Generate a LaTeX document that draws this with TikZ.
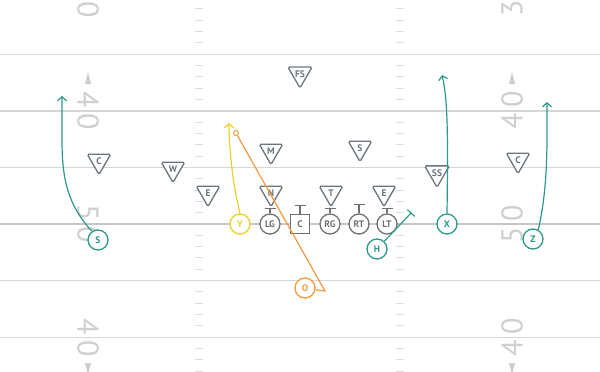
\documentclass[tikz,border=0pt]{standalone}
\usepackage{fontspec}
\setsansfont{PT Sans}
\usetikzlibrary{shapes.geometric, arrows.meta}
\usepackage{xcolor}
\definecolor{offteal}{RGB}{43,154,140}
\definecolor{offyellow}{RGB}{240,208,40}
\definecolor{offorange}{RGB}{246,153,60}
\definecolor{linegray}{RGB}{112,112,112}
\definecolor{defgray}{RGB}{108,117,125}
\definecolor{fieldgray}{RGB}{214,214,214}

\begin{document}
\begin{tikzpicture}[x=1pt,y=-1pt,
		font=\sffamily\bfseries\fontsize{9.5}{9.5}\selectfont,
		yardline/.style={draw=fieldgray, line width=1.4pt},
		hash/.style={draw=fieldgray!80, line width=1pt},
		ynum/.style={text=gray!38, inner sep=0pt, font=\sffamily\fontsize{30}{30}\selectfont},
		player/.style={circle, draw, fill=white, line width=1.3pt, minimum size=20pt, inner sep=0pt},
		lineman/.style={player, draw=linegray, text=linegray},
		defender/.style={regular polygon, regular polygon sides=3, shape border rotate=180,
			draw=defgray, text=defgray, fill=white, line width=1.3pt, rounded corners=1.5pt,
			minimum size=27pt, inner sep=0pt},
		block/.style={line width=1.2pt, draw=linegray},
		route/.style={line width=1.2pt, -{Straight Barb[length=4pt,width=9pt]}}]
		\useasboundingbox (0,0) rectangle (600,372);
		\clip (0,0) rectangle (600,372);
		% field
		\foreach \m in {-4,-3,-2,-1,1,2}
		\draw[yardline] (0,{224+56.6*\m}) -- (600,{224+56.6*\m});
		\draw[yardline, draw=gray!45] (0,224) -- (600,224);
		\foreach \m in {-4,...,2}
		\foreach \j in {1,...,4}{
			\draw[hash] (195,{224+56.6*\m+11.32*\j}) -- ++(8,0);
			\draw[hash] (396,{224+56.6*\m+11.32*\j}) -- ++(8,0);
		}
		% yard numbers
		\node[ynum, rotate=-90] (l30b) at (88,9.6) {0};
		\node[ynum, rotate=-90] (l40a) at (88,99.8) {4};
		\node[ynum, rotate=-90] (l40b) at (88,121.8) {0};
		\node[ynum, rotate=-90] (l50a) at (88,213) {5};
		\node[ynum, rotate=-90] (l50b) at (88,235) {0};
		\node[ynum, rotate=-90] (l40c) at (88,326.2) {4};
		\node[ynum, rotate=-90] (l40d) at (88,348.2) {0};
		\node[ynum, rotate=90] (r30a) at (512,8.6) {3};
		\node[ynum, rotate=90] (r40b) at (512,99.8) {0};
		\node[ynum, rotate=90] (r40a) at (512,121.8) {4};
		\node[ynum, rotate=90] (r50b) at (512,213) {0};
		\node[ynum, rotate=90] (r50a) at (512,235) {5};
		\node[ynum, rotate=90] (r40d) at (512,326.2) {0};
		\node[ynum, rotate=90] (r40c) at (512,348.2) {4};
		\foreach \x in {88,512}{
			\fill[gray!38] (\x,72) -- (\x-3,84) -- (\x+3,84) -- cycle;
			\fill[gray!38] (\x,375) -- (\x-3,363) -- (\x+3,363) -- cycle;
		}
		% defense
		\node[defender] (FS) at (300,74) {FS};
		\node[defender] (CL) at (99,161) {C};
		\node[defender] (W) at (173,169) {W};
		\node[defender] (M) at (271,151) {M};
		\node[defender] (SD) at (360,148) {S};
		\node[defender] (EL) at (208,193) {E};
		\node[defender] (N) at (271,193) {N};
		\node[defender] (T) at (331,193) {T};
		\node[defender] (ER) at (384,193) {E};
		\node[defender] (SS) at (437,173) {SS};
		\node[defender] (CR) at (518,160) {C};
		% offense
		\node[lineman] (LG) at (270,224) {LG};
		\node[lineman, rectangle, minimum size=19pt] (C) at (300,224) {C};
		\node[lineman] (RG) at (330,224) {RG};
		\node[lineman] (RT) at (359,224) {RT};
		\node[lineman] (LT) at (387,224) {LT};
		\node[player, draw=offyellow, text=offyellow] (Y) at (240,224) {Y};
		\node[player, draw=offteal, text=offteal] (H) at (377,249) {H};
		\node[player, draw=offteal, text=offteal] (X) at (447,224) {X};
		\node[player, draw=offteal, text=offteal] (Z) at (533,239) {Z};
		\node[player, draw=offteal, text=offteal] (S) at (98,240) {S};
		\node[player, draw=offorange, text=offorange] (O) at (305,288) {O};
		% blocks
		\foreach \p/\len in {LG/5,C/8.5,RG/5,RT/9,LT/5}{
			\draw[block] (\p.north) -- ++(0,-\len) coordinate (\p-b);
			\draw[block] ([xshift=-5.5pt]\p-b) -- ([xshift=5.5pt]\p-b);
		}
		\coordinate (Hb) at (411,213);
		\draw[block, draw=offteal] (H) -- (Hb);
		\draw[block, draw=offteal] ([shift={(-3.6,-3.4)}]Hb) -- ([shift={(3.6,3.4)}]Hb);
		% routes
		\coordinate (Send) at (62,96);
		\coordinate (Yend) at (229,123);
		\coordinate (Xend) at (442,75);
		\coordinate (Zend) at (547,102);
		\coordinate (Okink) at (325,291);
		\draw[route, draw=offteal] (S.125) .. controls (68,205) and (62,180) .. (62,140) -- (Send);
		\draw[route, draw=offyellow] (Y.north) .. controls (233,185) and (229,150) .. (Yend);
		\draw[route, draw=offteal] (X.north) .. controls (448,140) and (448,100) .. (Xend);
		\draw[route, draw=offteal] (Z.60) .. controls (545,200) and (547,170) .. (547,135) -- (Zend);
		\node[circle, draw=offorange, fill=white, line width=1pt, minimum size=5pt, inner sep=0pt] (Oend) at (236,133) {};
		\draw[line width=1.2pt, draw=offorange] (O.-10) -- (Okink) -- (Oend);
	\end{tikzpicture}
\end{document}
